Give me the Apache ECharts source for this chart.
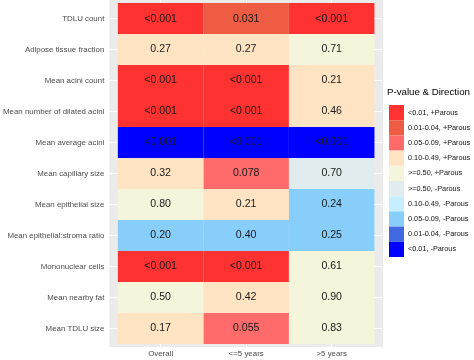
<!DOCTYPE html>
<html>
<head>
<meta charset="utf-8">
<script src="https://cdn.jsdelivr.net/npm/echarts@6/dist/echarts.min.js"></script>
<style>html,body{margin:0;padding:0;background:#fff;}#c{width:474px;height:360px;}</style>
</head>
<body>
<div id="c"></div>
<script>
const rows = ['TDLU count','Adipose tissue fraction','Mean acini count','Mean number of dilated acini','Mean average acini','Mean capillary size','Mean epithelial size','Mean epithelial:stroma ratio','Mononuclear cells','Mean nearby fat','Mean TDLU size'];
const cols = ['Overall','<=5 years','>5 years'];
const categories = ['<0.01, +Parous','0.01-0.04, +Parous','0.05-0.09, +Parous','0.10-0.49, +Parous','>=0.50, +Parous','>=0.50, -Parous','0.10-0.49, -Parous','0.05-0.09, -Parous','0.01-0.04, -Parous','<0.01, -Parous'];
const colors = ['#FF3232','#EE5C44','#FF6B6B','#FFE4C4','#F5F5DC','#E0ECEE','#C6EEFF','#87CEFA','#4169E1','#0000FF'];

const pOverall = ['<0.001','0.27','<0.001','<0.001','<0.001','0.32','0.80','0.20','<0.001','0.50','0.17'];
const pEarly   = ['0.031','0.27','<0.001','<0.001','<0.001','0.078','0.21','0.40','<0.001','0.42','0.055'];
const pLate    = ['<0.001','0.71','0.21','0.46','<0.001','0.70','0.24','0.25','0.61','0.90','0.83'];

const catOverall = [0,3,0,0,9,3,4,7,0,4,3];
const catEarly   = [1,3,0,0,9,2,3,7,0,3,2];
const catLate    = [0,4,3,3,9,5,7,7,4,4,4];

const pCols = [pOverall, pEarly, pLate];
const cCols = [catOverall, catEarly, catLate];

const FONT = 'Liberation Sans, Arial, Helvetica, sans-serif';

const seriesData = categories.map(() => []);
for (let c = 0; c < cols.length; c++) {
  for (let r = 0; r < rows.length; r++) {
    seriesData[cCols[c][r]].push({ value: [c, r], label: pCols[c][r] });
  }
}

function makeRender(si) {
  return function (params, api) {
    const x = api.value(0), y = api.value(1);
    const a = api.coord([x - 0.5, y - 0.5]);
    const b = api.coord([x + 0.5, y + 0.5]);
    const x0 = Math.min(a[0], b[0]), y0 = Math.min(a[1], b[1]);
    const w = Math.abs(b[0] - a[0]), h = Math.abs(b[1] - a[1]);
    const item = seriesData[si][params.dataIndex];
    return {
      type: 'group',
      children: [
        { type: 'rect', shape: { x: x0, y: y0, width: w, height: h }, style: { fill: api.visual('color') } },
        { type: 'text', style: { text: item.label, x: x0 + w / 2, y: y0 + h / 2, align: 'center', verticalAlign: 'middle', fontSize: 10.6, fontFamily: FONT, fill: '#1a1a1a' } }
      ]
    };
  };
}

const series = categories.map((name, i) => ({
  type: 'custom',
  name: name,
  itemStyle: { color: colors[i] },
  data: seriesData[i],
  renderItem: makeRender(i),
  encode: { x: 0, y: 1 },
  silent: true
}));

const chart = echarts.init(document.getElementById('c'), null, { renderer: 'canvas' });
chart.setOption({
  animation: false,
  backgroundColor: '#fff',
  textStyle: { fontFamily: FONT },
  title: {
    text: 'P-value & Direction',
    left: 387, top: 87, padding: 0,
    textStyle: { fontSize: 9.7, fontWeight: 'normal', color: '#000', fontFamily: FONT }
  },
  grid: {
    left: 103, right: 91, top: 0, bottom: 13,
    show: true, backgroundColor: '#EBEBEB', borderWidth: 0
  },
  xAxis: {
    type: 'value', min: -0.6, max: 2.6,
    axisLine: { show: true, lineStyle: { color: 'rgba(0,0,0,0)' } },
    axisTick: { show: true, length: 3, lineStyle: { color: '#333', width: 1 }, customValues: [0, 1, 2] },
    axisLabel: { customValues: [0, 1, 2], formatter: v => cols[Math.round(v)], color: '#4D4D4D', fontSize: 7.9, margin: 3, fontFamily: FONT },
    splitLine: { show: true, lineStyle: { color: '#fff', width: 1 } }
  },
  yAxis: {
    type: 'value', min: -0.6, max: 10.6, inverse: true,
    axisLine: { show: true, lineStyle: { color: 'rgba(0,0,0,0)' } },
    axisTick: { show: true, length: 3, lineStyle: { color: '#333', width: 1 }, customValues: [0,1,2,3,4,5,6,7,8,9,10] },
    axisLabel: { customValues: [0,1,2,3,4,5,6,7,8,9,10], formatter: v => rows[Math.round(v)], color: '#4D4D4D', fontSize: 7.9, margin: 5, fontFamily: FONT },
    splitLine: { show: true, lineStyle: { color: '#fff', width: 1 } }
  },
  legend: {
    orient: 'vertical',
    left: 389, top: 105,
    padding: 0,
    itemWidth: 15, itemHeight: 15.2, itemGap: 0,
    icon: 'rect',
    selectedMode: false,
    textStyle: { fontSize: 7.3, color: '#111', fontFamily: FONT, padding: [0, 0, 0, -1] },
    data: categories.map((n, i) => ({ name: n, itemStyle: { color: colors[i] } }))
  },
  series: series
});
</script>
</body>
</html>
